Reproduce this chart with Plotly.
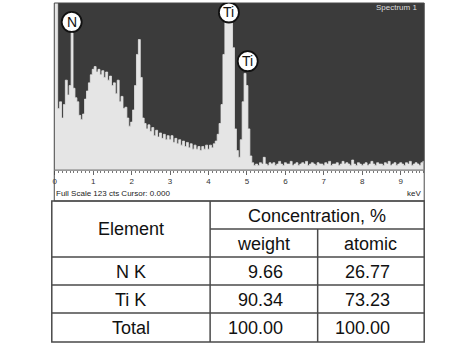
import plotly.graph_objects as go

# ---------------- data ----------------
energy_kev = [
    0.00, 0.05, 0.10, 0.15, 0.20, 0.25, 0.30, 0.35, 0.40, 0.45,
    0.50, 0.55, 0.60, 0.65, 0.70, 0.75, 0.80, 0.85, 0.90, 0.95,
    1.00, 1.05, 1.10, 1.15, 1.20, 1.25, 1.30, 1.35, 1.40, 1.45,
    1.50, 1.55, 1.60, 1.65, 1.70, 1.75, 1.80, 1.85, 1.90, 1.95,
    2.00, 2.05, 2.10, 2.15, 2.20, 2.25, 2.30, 2.35, 2.40, 2.45,
    2.50, 2.55, 2.60, 2.65, 2.70, 2.75, 2.80, 2.85, 2.90, 2.95,
    3.00, 3.05, 3.10, 3.15, 3.20, 3.25, 3.30, 3.35, 3.40, 3.45,
    3.50, 3.55, 3.60, 3.65, 3.70, 3.75, 3.80, 3.85, 3.90, 3.95,
    4.00, 4.05, 4.10, 4.15, 4.20, 4.25, 4.30, 4.35, 4.40, 4.45,
    4.50, 4.55, 4.60, 4.65, 4.70, 4.75, 4.80, 4.85, 4.90, 4.95,
    5.00, 5.05, 5.10, 5.15, 5.20, 5.25, 5.30, 5.35, 5.40, 5.45,
    5.50, 5.55, 5.60, 5.65, 5.70, 5.75, 5.80, 5.85, 5.90, 5.95,
    6.00, 6.05, 6.10, 6.15, 6.20, 6.25, 6.30, 6.35, 6.40, 6.45,
    6.50, 6.55, 6.60, 6.65, 6.70, 6.75, 6.80, 6.85, 6.90, 6.95,
    7.00, 7.05, 7.10, 7.15, 7.20, 7.25, 7.30, 7.35, 7.40, 7.45,
    7.50, 7.55, 7.60, 7.65, 7.70, 7.75, 7.80, 7.85, 7.90, 7.95,
    8.00, 8.05, 8.10, 8.15, 8.20, 8.25, 8.30, 8.35, 8.40, 8.45,
    8.50, 8.55, 8.60, 8.65, 8.70, 8.75, 8.80, 8.85, 8.90, 8.95,
    9.00, 9.05, 9.10, 9.15, 9.20, 9.25, 9.30, 9.35, 9.40, 9.45,
    9.50, 9.55, 9.60,
]
counts = [
    200, 200, 45, 50, 38, 48, 66, 55, 62, 101,
    60, 53, 50, 40, 37, 41, 52, 58, 64, 70,
    74, 76, 72, 74, 70, 73, 68, 72, 66, 69,
    62, 64, 56, 66, 50, 54, 45, 46, 38, 32,
    35, 44, 62, 85, 96, 68, 38, 34, 30, 33,
    28, 31, 25, 29, 24, 27, 23, 26, 22, 25,
    22, 25, 20, 23, 19, 22, 18, 21, 17, 20,
    16, 19, 15, 18, 15, 17, 14, 17, 15, 18,
    15, 18, 16, 19, 21, 26, 34, 48, 85, 140,
    160, 160, 140, 90, 30, 14, 9, 22, 50, 71,
    62, 30, 10, 5, 3, 4, 3, 5, 4, 9,
    4, 3, 5, 4, 5, 3, 4, 6, 4, 3,
    5, 4, 4, 6, 3, 4, 5, 3, 4, 5,
    4, 6, 3, 4, 5, 4, 3, 5, 4, 4,
    3, 5, 4, 6, 3, 4, 4, 5, 3, 4,
    6, 4, 5, 4, 3, 7, 4, 3, 5, 4,
    3, 4, 5, 3, 4, 6, 4, 3, 5, 4,
    4, 3, 5, 4, 6, 3, 4, 5, 3, 4,
    5, 4, 3, 5, 4, 6, 3, 4, 5, 4,
    3, 5, 6,
]
assert len(energy_kev) == len(counts)

full_scale = 123
tick_vals = [0, 1, 2, 3, 4, 5, 6, 7, 8, 9]
tick_text = ["0", "1", "2", "3", "4", "5", "6", "7", "8", "9"]

peak_labels = ["N", "Ti", "Ti"]
peak_label_energy = [0.44, 4.53, 5.02]
peak_label_counts = [109, 116, 80]

spectrum_title = "Spectrum 1"
footer_left = "Full Scale 123 cts Cursor: 0.000"
footer_right = "keV"

table_elements = ["N K", "Ti K", "Total"]
weight_pct = ["9.66", "90.34", "100.00"]
atomic_pct = ["26.77", "73.23", "100.00"]
header_element = "Element"
header_conc = "Concentration, %"
header_sub = ["weight", "atomic"]

# ---------------- layout helpers ----------------
W, H = 474, 353
def px(x):
    return x / W
def py(y):
    return 1 - y / H

FONT = "Liberation Sans, Arial, sans-serif"
DARK = "#3b3b3b"
FILL = "#e5e5e5"
LINE = "#4a4a4a"

fig = go.Figure()
fig.add_trace(go.Scatter(
    x=energy_kev, y=counts, mode="lines", line_shape="hvh",
    line=dict(color=FILL, width=0.8), fill="tozeroy", fillcolor=FILL,
    hoverinfo="skip", showlegend=False,
))

x0_px, x1_px = 53, 424
kev_px = 38.6
fig.update_layout(
    width=W, height=H, margin=dict(l=0, r=0, t=0, b=0),
    paper_bgcolor="white", plot_bgcolor=DARK, showlegend=False,
    font=dict(family=FONT, color="#222"),
    xaxis=dict(
        domain=[px(x0_px), px(x1_px)], range=[0, (x1_px - x0_px) / kev_px],
        tickvals=tick_vals, ticktext=tick_text, ticks="outside", ticklen=4,
        tickcolor="#666", tickwidth=1, tickfont=dict(size=8, color="#333"),
        minor=dict(dtick=0.1, ticks="outside", ticklen=2, tickcolor="#777"),
        showgrid=False, zeroline=False, showline=True, linecolor="#999",
        linewidth=1, fixedrange=True,
    ),
    yaxis=dict(
        domain=[py(169.5), py(3)], range=[0, full_scale], visible=False,
        fixedrange=True,
    ),
)

shapes = []
annotations = []

# spectrum frame
shapes.append(dict(type="rect", xref="paper", yref="paper",
                   x0=px(52.5), x1=px(424), y0=py(201), y1=py(3),
                   line=dict(color=LINE, width=1)))

# peak label circles
for lab, e, c in zip(peak_labels, peak_label_energy, peak_label_counts):
    shapes.append(dict(type="circle", xref="x", yref="y",
                       xsizemode="pixel", ysizemode="pixel",
                       xanchor=e, yanchor=c, x0=-10, x1=10, y0=-10, y1=10,
                       fillcolor="white", line=dict(color="#111", width=1.8),
                       layer="above"))
    annotations.append(dict(x=e, y=c, xref="x", yref="y", text=lab,
                            showarrow=False, font=dict(size=14, color="#111"),
                            xanchor="center", yanchor="middle"))

annotations.append(dict(x=px(419), y=py(8), xref="paper", yref="paper",
                        text=spectrum_title, showarrow=False,
                        font=dict(size=8, color="#dddddd"),
                        xanchor="right", yanchor="middle"))
annotations.append(dict(x=px(52), y=py(193.5), xref="paper", yref="paper",
                        text=footer_left, showarrow=False,
                        font=dict(size=8, color="#222"),
                        xanchor="left", yanchor="middle"))
annotations.append(dict(x=px(423), y=py(193.5), xref="paper", yref="paper",
                        text=footer_right, showarrow=False,
                        font=dict(size=8, color="#222"),
                        xanchor="right", yanchor="middle"))

# ---------------- table ----------------
col_edges = [50, 209, 317, 424]
row_edges = [201, 229, 257, 285, 313, 342]
tline = dict(color=LINE, width=1.5)
# outer box
shapes.append(dict(type="rect", xref="paper", yref="paper",
                   x0=px(col_edges[0]), x1=px(col_edges[3]),
                   y0=py(row_edges[-1]), y1=py(row_edges[0]), line=tline))
# vertical lines
shapes.append(dict(type="line", xref="paper", yref="paper",
                   x0=px(col_edges[1]), x1=px(col_edges[1]),
                   y0=py(row_edges[0]), y1=py(row_edges[-1]), line=tline))
shapes.append(dict(type="line", xref="paper", yref="paper",
                   x0=px(col_edges[2]), x1=px(col_edges[2]),
                   y0=py(row_edges[1]), y1=py(row_edges[-1]), line=tline))
# horizontal lines
shapes.append(dict(type="line", xref="paper", yref="paper",
                   x0=px(col_edges[1]), x1=px(col_edges[3]),
                   y0=py(row_edges[1]), y1=py(row_edges[1]), line=tline))
for r in row_edges[2:-1]:
    shapes.append(dict(type="line", xref="paper", yref="paper",
                       x0=px(col_edges[0]), x1=px(col_edges[3]),
                       y0=py(r), y1=py(r), line=tline))

TFS = 18
def cell_text(x, y, t, anchor="center"):
    annotations.append(dict(x=px(x), y=py(y), xref="paper", yref="paper",
                            text=t, showarrow=False,
                            font=dict(size=TFS, color="#111", family=FONT),
                            xanchor=anchor, yanchor="middle"))

c1 = (col_edges[0] + col_edges[1]) / 2
c2 = (col_edges[1] + col_edges[2]) / 2
c3 = (col_edges[2] + col_edges[3]) / 2
cell_text(c1, 229, header_element)
cell_text((col_edges[1] + col_edges[3]) / 2, 216, header_conc)
cell_text(c2, 244, header_sub[0])
cell_text(c3, 244, header_sub[1])
row_mid = [(row_edges[i] + row_edges[i + 1]) / 2 for i in range(2, 5)]
for name, w, a, ym in zip(table_elements, weight_pct, atomic_pct, row_mid):
    cell_text(c1, ym + 0.5, name)
    cell_text(284, ym + 0.5, w, anchor="right")
    cell_text(392, ym + 0.5, a, anchor="right")

fig.update_layout(shapes=shapes, annotations=annotations)
fig.write_html("out.html")
